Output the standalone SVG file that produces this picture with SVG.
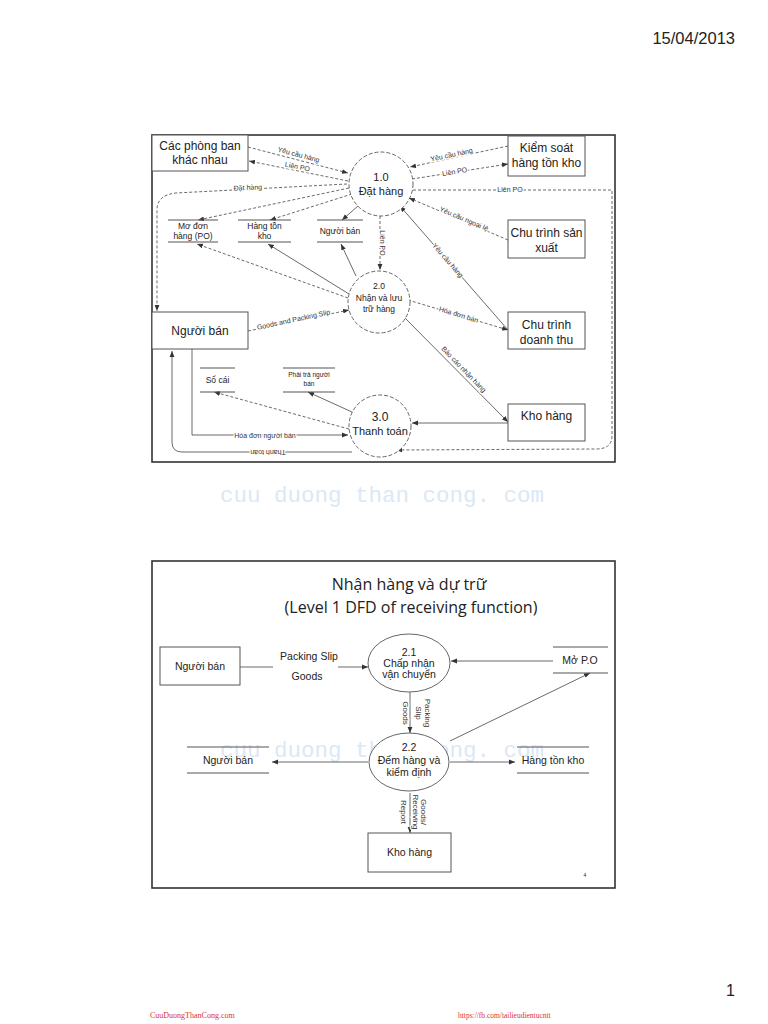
<svg xmlns="http://www.w3.org/2000/svg" width="768" height="1024" viewBox="0 0 768 1024">
<style>
text{font-family:"Liberation Sans",Arial,sans-serif;fill:#222}
.panel{fill:#fff;stroke:#333;stroke-width:1.6}
.box{fill:#fff;stroke:#555;stroke-width:1}
.proc{fill:#fff;stroke:#555;stroke-width:0.9;stroke-dasharray:4 2}
.proc2{fill:#fff;stroke:#555;stroke-width:0.9}
.store{stroke:#555;stroke-width:1.2}
.f{fill:none;stroke:#444;stroke-width:0.8;marker-end:url(#arr)}
.d{stroke-dasharray:3 2}
.n{fill:none;stroke:#444;stroke-width:0.8}
.lb{font-size:7px;fill:#333;stroke:#fff;stroke-width:2.5;paint-order:stroke;text-anchor:middle}
.ent{font-size:12px;text-anchor:middle}
.st{font-size:8.5px;text-anchor:middle}
.pt{font-size:11px;text-anchor:middle}
.b{font-size:10.5px;text-anchor:middle}
.vl{font-size:8px;fill:#333;stroke:#fff;stroke-width:2.5;paint-order:stroke;text-anchor:middle}
.wm{font-family:"Liberation Mono",monospace;font-size:22.5px;fill:#dbe8f5}
.ft{font-family:"Liberation Serif",serif;fill:#e03030}
.tt{font-family:"Open Sans","Liberation Sans",sans-serif;font-size:16px;text-anchor:middle}
</style>
<defs>
<marker id="arr" viewBox="0 0 10 10" refX="10" refY="5" markerWidth="6" markerHeight="6" markerUnits="userSpaceOnUse" orient="auto"><path d="M0,1 L10,5 L0,9 z" fill="#333"/></marker>
</defs>
<rect width="768" height="1024" fill="#fff"/>
<text x="735" y="44" style="font-size:16.5px;text-anchor:end">15/04/2013</text>

<!-- top panel -->
<rect class="panel" x="152" y="135" width="463" height="327"/>
<text class="wm" x="220" y="502">cuu duong than cong. com</text>

<g id="connectors-top">
<path class="f d" d="M248,147 L348,173"/>
<path class="f d" d="M348,181 L249,161"/>
<path class="f d" d="M347,184 L176,193 Q157,195 157,210 L157,311"/>
<path class="f d" d="M349,188 L198,220"/>
<path class="f d" d="M352,194 L270,220"/>
<path class="f" d="M358,206 L342,220"/>
<path class="f d" d="M380,216 L380,270"/>
<path class="f d" d="M508,146 L410,167"/>
<path class="f d" d="M412,179 L508,164"/>
<path class="f d" d="M413,190 L612,190 L612,436 Q612,449 596,449 L396,450"/>
<path class="f d" d="M508,240 L409,198"/>
<path class="f" d="M508,330 L400,206"/>
<path class="f d" d="M408,300 L508,330"/>
<path class="f" d="M405,318 L508,422"/>
<path class="f" d="M508,423 L412,423"/>
<path class="f d" d="M248,331 L349,310"/>
<path class="f d" d="M348,298 L197,244"/>
<path class="f" d="M349,294 L268,244"/>
<path class="f" d="M356,276 L341,244"/>
<path class="f d" d="M349,429 L214,392"/>
<path class="f" d="M352,412 L308,392"/>
<path class="f" d="M192,349 L192,435 L348,435"/>
<path class="f" d="M352,452 L182,452 Q172,452 172,442 L172,351"/>
<text class="lb" transform="translate(298,157) rotate(15)">Yêu cầu hàng</text>
<text class="lb" transform="translate(297,169) rotate(11)">Liên PO</text>
<text class="lb" transform="translate(248,190) rotate(-3)">Đặt hàng</text>
<text class="lb" transform="translate(380,243) rotate(90)">Liên PO</text>
<text class="lb" transform="translate(452,157) rotate(-12)">Yêu cầu hàng</text>
<text class="lb" transform="translate(455,174) rotate(-9)">Liên PO</text>
<text class="lb" x="510" y="192">Liên PO</text>
<text class="lb" transform="translate(463,221) rotate(23)">Yêu cầu ngoại lệ</text>
<text class="lb" transform="translate(446,262) rotate(49)">Yêu cầu hàng</text>
<text class="lb" transform="translate(458,317) rotate(17)">Hóa đơn bán</text>
<text class="lb" transform="translate(462,371) rotate(46)">Báo cáo nhận hàng</text>
<text class="lb" transform="translate(294,322) rotate(-12)">Goods and Packing Slip</text>
<text class="lb" x="265" y="437.5">Hóa đơn người bán</text>
<text class="lb" transform="translate(268,452) rotate(180)" dy="2.5">Thanh toán</text>
</g>

<g id="e-cacphongban"><rect class="box" x="152" y="135" width="96" height="36"/><text class="ent" x="200" y="150">Các phòng ban</text><text class="ent" x="200" y="164">khác nhau</text></g>
<g id="e-kiemsoat"><rect class="box" x="508" y="136" width="77" height="40"/><text class="ent" x="546.5" y="152">Kiểm soát</text><text class="ent" x="546.5" y="167">hàng tồn kho</text></g>
<g id="e-chutrinhsx"><rect class="box" x="508" y="220" width="77" height="38"/><text class="ent" x="546.5" y="237">Chu trình sản</text><text class="ent" x="546.5" y="252">xuất</text></g>
<g id="e-nguoiban"><rect class="box" x="152" y="312" width="96" height="37"/><text class="ent" x="200" y="335">Người bán</text></g>
<g id="e-doanhthu"><rect class="box" x="508" y="312" width="77" height="37"/><text class="ent" x="546.5" y="329">Chu trình</text><text class="ent" x="546.5" y="344">doanh thu</text></g>
<g id="e-khohang"><rect class="box" x="508" y="404" width="77" height="37"/><text class="ent" x="546.5" y="420">Kho hàng</text></g>

<g id="p-1"><circle class="proc" cx="381" cy="184" r="32"/><text class="pt" x="381" y="181">1.0</text><text class="pt" x="381" y="195">Đặt hàng</text></g>
<g id="p-2"><circle class="proc" cx="379" cy="302" r="31"/><text class="st" x="379" y="289">2.0</text><text class="st" x="379" y="301">Nhận và lưu</text><text class="st" x="379" y="312">trữ hàng</text></g>
<g id="p-3"><circle class="proc" cx="380" cy="426" r="31"/><text class="ent" x="380" y="421">3.0</text><text class="pt" x="380" y="435">Thanh toán</text></g>

<g id="s-modon"><line class="store" x1="168" y1="220" x2="218" y2="220"/><line class="store" x1="168" y1="242" x2="218" y2="242"/><text class="st" x="193" y="229">Mơ đơn</text><text class="st" x="193" y="239">hàng (PO)</text></g>
<g id="s-hangton"><line class="store" x1="238" y1="220" x2="291" y2="220"/><line class="store" x1="238" y1="242" x2="291" y2="242"/><text class="st" x="264.5" y="229">Hàng tồn</text><text class="st" x="264.5" y="239">kho</text></g>
<g id="s-nguoiban"><line class="store" x1="317" y1="220" x2="363" y2="220"/><line class="store" x1="317" y1="242" x2="363" y2="242"/><text class="st" x="340" y="234">Người bán</text></g>
<g id="s-socai"><line class="store" x1="200" y1="368" x2="235" y2="368"/><line class="store" x1="200" y1="392" x2="235" y2="392"/><text class="st" x="217.5" y="383">Sổ cái</text></g>
<g id="s-phaitra"><line class="store" x1="283" y1="368" x2="335" y2="368"/><line class="store" x1="283" y1="392" x2="335" y2="392"/><text x="309" y="377" style="font-size:6.5px;text-anchor:middle">Phải trả người</text><text x="309" y="386" style="font-size:6.5px;text-anchor:middle">bán</text></g>

<!-- bottom panel -->
<rect class="panel" x="152" y="561" width="463" height="327"/>
<text class="wm" x="220" y="757">cuu duong than cong. com</text>
<text class="tt" x="409" y="590">Nhận hàng và dự trữ</text>
<text class="tt" x="411" y="613">(Level 1 DFD of receiving function)</text>

<g id="connectors-bottom">
<path class="n" d="M240,667 L273,667"/>
<path class="f" d="M338,667 L368,667"/>
<path class="f" d="M553,661 L451,661"/>
<path class="f" d="M410,692 L410,733"/>
<path class="f" d="M450,741 L590,673"/>
<path class="f" d="M368,762 L272,762"/>
<path class="f" d="M450,762 L515,762"/>
<path class="f" d="M410,793 L410,833"/>
<text class="b" x="309" y="660">Packing Slip</text>
<text class="b" x="307" y="680">Goods</text>
<text class="vl" transform="translate(425,713) rotate(90)">Packing</text>
<text class="vl" transform="translate(416,713) rotate(90)">Slip</text>
<text class="vl" transform="translate(403,713) rotate(90)">Goods</text>
<text class="vl" transform="translate(421,812) rotate(90)">Goods/</text>
<text class="vl" transform="translate(413,812) rotate(90)">Receiving</text>
<text class="vl" transform="translate(401,812) rotate(90)">Report</text>
</g>

<g id="e2-nguoiban"><rect class="box" x="160" y="647" width="80" height="38"/><text class="b" x="200" y="670">Người bán</text></g>
<g id="p-21"><ellipse class="proc2" cx="409" cy="663" rx="41" ry="29"/><text class="b" x="409" y="656">2.1</text><text class="b" x="409" y="667">Chấp nhận</text><text class="b" x="409" y="678">vận chuyển</text></g>
<g id="s-mopo"><line class="store" x1="553" y1="647" x2="608" y2="647"/><line class="store" x1="553" y1="673" x2="608" y2="673"/><text class="b" x="580" y="664">Mở P.O</text></g>
<g id="p-22"><ellipse class="proc2" cx="409" cy="762" rx="40" ry="29"/><text class="b" x="409" y="751">2.2</text><text class="b" x="409" y="764">Đếm hàng và</text><text class="b" x="409" y="776">kiểm định</text></g>
<g id="s2-nguoiban"><line class="store" x1="187" y1="747" x2="269" y2="747"/><line class="store" x1="187" y1="773" x2="269" y2="773"/><text class="b" x="228" y="764">Người bán</text></g>
<g id="s2-hangton"><line class="store" x1="517" y1="747" x2="589" y2="747"/><line class="store" x1="517" y1="773" x2="589" y2="773"/><text class="b" x="553" y="764">Hàng tồn kho</text></g>
<g id="e2-khohang"><rect class="box" x="368" y="833" width="83" height="39"/><text class="b" x="409.5" y="856">Kho hàng</text></g>
<text x="585" y="877" style="font-size:5px;text-anchor:middle">4</text>

<text x="735" y="996" style="font-size:16px;text-anchor:end">1</text>
<text class="ft" x="150" y="1018" style="font-size:8px">CuuDuongThanCong.com</text>
<text class="ft" x="458" y="1018" style="font-size:7.5px">https://fb.com/tailieudientucntt</text>
</svg>
